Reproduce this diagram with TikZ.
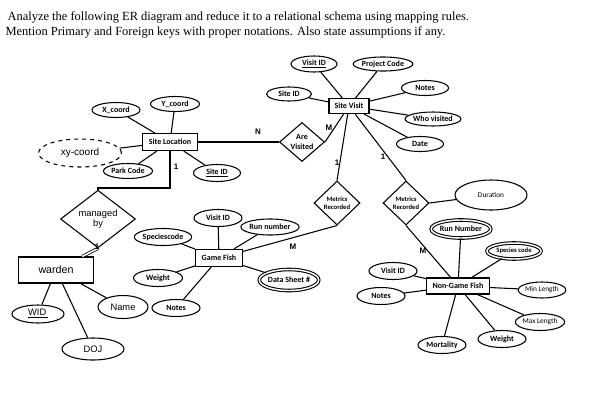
\documentclass[tikz,border=0pt]{standalone}
\usepackage{fontspec}
\setmainfont{Liberation Serif}
\newfontfamily\carl{Carlito}
\newfontfamily\arl{Liberation Sans}
\usetikzlibrary{shapes.geometric}
\tikzset{
  every picture/.style={line width=0.8pt},
  ent/.style={draw, rectangle, inner sep=0pt, font=\carl\bfseries\fontsize{6}{7}\selectfont},
  att/.style={draw, ellipse, inner sep=0pt, font=\carl\bfseries\fontsize{6}{7}\selectfont},
  mva/.style={att, double, double distance=1.1pt},
  der/.style={att, dashed},
  rel/.style={draw, diamond, inner sep=0pt, align=center, font=\carl\bfseries\fontsize{5}{5.8}\selectfont},
  plain/.style={font=\arl\fontsize{7}{7.5}\selectfont},
  card/.style={font=\arl\bfseries\fontsize{6}{7}\selectfont, inner sep=0pt},
  sz/.style 2 args={minimum width=#1*0.75pt, minimum height=#2*0.75pt}
}
\begin{document}
\begin{tikzpicture}[x=0.75pt, y=-0.75pt]
  \useasboundingbox (0,0) rectangle (596,400);
  \node[anchor=west, inner sep=0pt, font=\fontsize{9.35}{11}\selectfont] (q1) at (7,17) {Analyze the following ER diagram and reduce it to a relational schema using mapping rules.};
  \node[anchor=west, inner sep=0pt, font=\fontsize{9.35}{11}\selectfont] (q2) at (5,32) {Mention Primary and Foreign keys with proper notations. Also state assumptions if any.};

  \node[ent, sz={40}{15}] (sv) at (349,106) {Site Visit};
  \node[att, sz={46}{16}] (svid) at (314,64) {\underline{Visit ID}};
  \node[att, sz={47}{14}] (pcode) at (383,64) {Project Code};
  \node[att, sz={45}{14}] (svsite) at (289,94) {Site ID};
  \node[att, sz={47}{15}] (svnotes) at (425,88) {Notes};
  \node[att, sz={46}{14}] (who) at (433,119) {Who visited};
  \node[att, sz={47}{15}] (date) at (420,144) {Date};

  \node[rel, sz={45}{39}, font=\carl\bfseries\fontsize{6}{7}\selectfont] (av) at (302,142) {Are\\Visited};
  \node[rel, sz={46}{44}] (mrl) at (337,203) {Metrics\\Recorded};
  \node[rel, sz={46}{44}] (mrr) at (406,203) {Metrics\\Recorded};
  \node[att, sz={72}{30}, font=\carl\fontsize{5.5}{6}\selectfont] (dur) at (491,195) {Duration};

  \node[ent, sz={63}{16}] (ngf) at (458,286) {Non-Game Fish};
  \node[mva, sz={54}{18}] (nrun) at (461,229) {Run Number};
  \node[mva, sz={54}{16}, font=\carl\bfseries\fontsize{5}{6}\selectfont] (nspec) at (514,251) {Species code};
  \node[att, sz={45}{16}, font=\carl\fontsize{5.5}{6}\selectfont] (minl) at (542,290) {Min Length};
  \node[att, sz={47}{17}, font=\carl\fontsize{5.5}{6}\selectfont] (maxl) at (540,322) {Max Length};
  \node[att, sz={48}{17}] (nweight) at (502,339) {Weight};
  \node[att, sz={48}{17}] (mort) at (442,345) {Mortality};
  \node[att, sz={48}{17}] (nvid) at (393,271) {Visit ID};
  \node[att, sz={48}{17}] (nnotes) at (381,296) {Notes};

  \node[ent, sz={47}{17}] (gf) at (219,258) {Game Fish};
  \node[att, sz={48}{17}] (gvid) at (218,218) {Visit ID};
  \node[att, sz={48}{16}] (grun) at (270,227) {Run number};
  \node[att, sz={49}{17}] (gspec) at (163,237) {Speciescode};
  \node[att, sz={49}{17}] (gweight) at (158,278) {Weight};
  \node[att, sz={48}{17}] (gnotes) at (176,308) {Notes};
  \node[mva, sz={52}{21}] (dsheet) at (289,280) {Data Sheet \#};

  \node[ent, sz={75}{26}, font=\arl\fontsize{8}{9}\selectfont] (wd) at (56,270) {warden};
  \node[rel, sz={75}{28}, font=\arl\fontsize{7}{7.5}\selectfont] (mb) at (98,219) {managed\\by};
  \node[att, sz={52}{18}, plain] (wid) at (38,314) {\underline{WID\,}};
  \node[att, sz={50}{23}, plain] (name) at (123,307) {Name};
  \node[att, sz={62}{22}, plain] (doj) at (93,349) {DOJ};

  \node[ent, sz={55}{17}] (sl) at (170,142) {Site Location};
  \node[att, sz={48}{15}] (xc) at (116,110) {X\_coord};
  \node[att, sz={49}{15}] (yc) at (175,104) {Y\_coord};
  \node[der, sz={83}{28}, font=\arl\fontsize{7.5}{8}\selectfont] (xy) at (80,153) {xy-coord};
  \node[att, sz={49}{15}] (park) at (128,171) {Park Code};
  \node[att, sz={47}{17}] (slsite) at (217,173) {\underline{Site ID}};
  \coordinate (bend) at (170,188);

  \draw (sv) -- (svid);
  \draw (sv) -- (pcode);
  \draw (sv) -- (svsite);
  \draw (sv) -- (svnotes);
  \draw (sv) -- (who);
  \draw (sv) -- (date);
  \draw (av.east) -- (sv);
  \draw (sv) -- (mrl.north);
  \draw (sv) -- (mrr.north);
  \draw (mrr.east) -- (dur);
  \draw (mrr.south) -- (ngf);
  \draw (mrl.south) -- (gf);

  \draw (ngf) -- (nrun);
  \draw (ngf) -- (nspec);
  \draw (ngf) -- (minl);
  \draw (ngf) -- (maxl);
  \draw (ngf) -- (nweight);
  \draw (ngf) -- (mort);
  \draw (ngf) -- (nvid);
  \draw (ngf) -- (nnotes);

  \draw (gf) -- (gvid);
  \draw (gf) -- (grun);
  \draw (gf) -- (gspec);
  \draw (gf) -- (gweight);
  \draw (gf) -- (gnotes);
  \draw (gf) -- (dsheet);

  \draw (sl) -- (xc);
  \draw (sl) -- (yc);
  \draw (sl) -- (xy);
  \draw (sl) -- (park);
  \draw (sl) -- (slsite);
  \draw (sl) -- (av.west);
  \draw (sl.south) -- (bend) -| (mb.north);
  \draw[double, double distance=1.2pt, line width=0.6pt] (mb.south) -- (wd);
  \draw (wd) -- (wid);
  \draw (wd) -- (name);
  \draw (wd) -- (doj);

  \node[card] (cn) at (258,132) {N};
  \node[card] (cm1) at (329,128) {M};
  \node[card] (c1a) at (337,163) {1};
  \node[card] (c1b) at (383,157) {1};
  \node[card] (c1c) at (176,167) {1};
  \node[card] (c1d) at (97,247) {1};
  \node[card] (cm2) at (293,247) {M};
  \node[card] (cm3) at (423,251) {M};
\end{tikzpicture}
\end{document}
